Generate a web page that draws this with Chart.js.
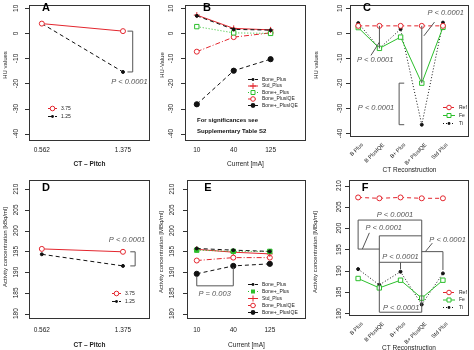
<!DOCTYPE html>
<html>
<head>
<meta charset="utf-8">
<script src="https://cdn.jsdelivr.net/npm/chart.js@4.4.0/dist/chart.umd.min.js"></script>
<style>
body { margin: 0; background: #fff; }
#fig { position: relative; width: 474px; height: 350px; overflow: hidden; }
canvas { position: absolute; }
</style>
</head>
<body>
<div id="fig">
<canvas id="pA" width="155" height="175" style="left:0;top:0"></canvas>
<canvas id="pB" width="156" height="175" style="left:155px;top:0"></canvas>
<canvas id="pC" width="163" height="175" style="left:311px;top:0"></canvas>
<canvas id="pD" width="155" height="175" style="left:0;top:175px"></canvas>
<canvas id="pE" width="156" height="175" style="left:155px;top:175px"></canvas>
<canvas id="pF" width="163" height="175" style="left:311px;top:175px"></canvas>
</div>
<script>
// tick labels
var huTicks = [-40, -30, -20, -10, 0, 10];
var actTicks = [180, 185, 190, 195, 200, 205, 210];
var pitchLabels = ['0.562', '1.375'];
var currentLabels = ['10', '40', '125'];
var reconLabels = ['B Plus', 'B PlusIQE', 'B+ Plus', 'B+ PlusIQE', 'Std Plus'];

// A: HU vs pitch
var huPitch375 = [3.9, 0.9];
var huPitch125 = [3.9, -15.4];
// D: activity vs pitch
var actPitch375 = [195.6, 194.9];
var actPitch125 = [194.3, 191.5];

// B: HU vs current
var huBonePlus = [7.0, 1.6, 1.3];
var huStdPlus = [7.3, 2.0, 1.4];
var huBoneXPlus = [2.7, 0.2, 0.0];
var huBonePlusIQE = [-7.3, -1.5, 0.2];
var huBoneXPlusIQE = [-28.3, -14.9, -10.3];
// E: activity vs current
var actBonePlus = [195.7, 195.3, 195.0];
var actBoneXPlus = [195.3, 195.0, 195.0];
var actStdPlus = [195.5, 194.8, 194.4];
var actBonePlusIQE = [192.8, 193.5, 193.5];
var actBoneXPlusIQE = [189.6, 191.5, 192.0];

// C: HU vs reconstruction
var huRef = [3.0, 3.0, 3.0, 3.0, 3.0];
var huFe = [2.3, -6.0, -1.5, -19.9, 2.4];
var huTi = [4.1, -6.0, 1.7, -36.5, 4.3];
// F: activity vs reconstruction
var actRef = [207.2, 207.0, 207.2, 207.0, 207.0];
var actFe = [188.2, 186.0, 187.8, 183.6, 187.8];
var actTi = [190.4, 186.7, 189.8, 182.1, 189.4];

var RED = '#e3262e', GREEN = '#2cbf2c', BLACK = '#111', GREY = '#555';
var FONT = '"Liberation Sans", Arial, sans-serif';
var DASH = { solid: [], dashed: [4, 3], dotted: [1, 2], dashdot: [5, 2, 1, 2] };
var MARK = {
  circle: { style: 'circle', r: 2.5, fill: false },
  dot: { style: 'circle', r: 1.5, fill: true },
  bigdot: { style: 'circle', r: 2.6, fill: true },
  square: { style: 'rect', r: 3.1, fill: false },
  fsquare: { style: 'rect', r: 3.1, fill: true },
  plus: { style: 'cross', r: 3, fill: false }
};

function series(label, values, color, dash, mark) {
  var m = MARK[mark];
  return {
    label: label,
    data: values.map(function (v, i) { return { x: i, y: v }; }),
    borderColor: color,
    borderWidth: 1,
    borderDash: DASH[dash],
    pointStyle: m.style,
    pointRadius: m.r,
    pointBackgroundColor: m.fill ? color : '#fff',
    pointBorderColor: color,
    pointBorderWidth: 1,
    fill: false,
    tension: 0,
    _dash: dash,
    _mark: mark
  };
}

function drawMark(ctx, type, color, x, y) {
  ctx.save();
  ctx.setLineDash([]);
  ctx.strokeStyle = color;
  ctx.fillStyle = color;
  ctx.lineWidth = 1;
  ctx.beginPath();
  if (type === 'circle') { ctx.arc(x, y, 2.3, 0, 2 * Math.PI); ctx.fillStyle = '#fff'; ctx.fill(); ctx.stroke(); }
  else if (type === 'dot') { ctx.arc(x, y, 1.4, 0, 2 * Math.PI); ctx.fill(); }
  else if (type === 'bigdot') { ctx.arc(x, y, 2.4, 0, 2 * Math.PI); ctx.fill(); }
  else if (type === 'square') { ctx.rect(x - 2, y - 2, 4, 4); ctx.fillStyle = '#fff'; ctx.fill(); ctx.stroke(); }
  else if (type === 'fsquare') { ctx.rect(x - 2, y - 2, 4, 4); ctx.fill(); }
  else if (type === 'plus') { ctx.moveTo(x - 3, y); ctx.lineTo(x + 3, y); ctx.moveTo(x, y - 3); ctx.lineTo(x, y + 3); ctx.stroke(); }
  ctx.restore();
}

// R style frame, axes, legend and p-value notes
function deco(o) {
  return {
    id: 'deco',
    afterDatasetsDraw: function (chart) {
      var ctx = chart.ctx, a = chart.chartArea;
      var sx = chart.scales.x, sy = chart.scales.y;
      var px = function (v) { return sx.getPixelForValue(v); };
      var py = function (v) { return sy.getPixelForValue(v); };
      ctx.save();
      ctx.strokeStyle = '#333';
      ctx.lineWidth = 1;
      ctx.strokeRect(Math.round(a.left) + 0.5, Math.round(a.top) + 0.5,
        Math.round(a.right - a.left) - 1, Math.round(a.bottom - a.top) - 1);

      // y axis
      ctx.fillStyle = '#222';
      ctx.font = '6.5px ' + FONT;
      o.yTicks.forEach(function (t) {
        var y = Math.round(py(t)) + 0.5;
        ctx.beginPath(); ctx.moveTo(a.left - 4, y); ctx.lineTo(a.left, y); ctx.stroke();
        ctx.save();
        ctx.translate(a.left - o.yOff, py(t));
        ctx.rotate(-Math.PI / 2);
        ctx.textAlign = 'center'; ctx.textBaseline = 'middle';
        ctx.fillText(String(t), 0, 0);
        ctx.restore();
      });

      // x labels
      o.xLabels.forEach(function (lab, i) {
        if (o.rotX) {
          ctx.save();
          ctx.font = '5.5px ' + FONT;
          ctx.translate(px(i) + 4, a.bottom + 7);
          ctx.rotate(-Math.PI / 4);
          ctx.textAlign = 'right'; ctx.textBaseline = 'middle';
          ctx.fillText(lab, 0, 0);
          ctx.restore();
        } else {
          ctx.textAlign = 'center'; ctx.textBaseline = 'middle';
          ctx.fillText(lab, px(i), a.bottom + o.xLabOff);
        }
      });

      // titles
      ctx.textAlign = 'center'; ctx.textBaseline = 'middle';
      ctx.font = (o.xTitleBold ? 'bold ' : '') + '6.5px ' + FONT;
      ctx.fillText(o.xTitle, (a.left + a.right) / 2, o.xTitleY);
      ctx.save();
      ctx.font = '6px ' + FONT;
      ctx.translate(o.yTitleX, o.yTitleY);
      ctx.rotate(-Math.PI / 2);
      ctx.fillText(o.yTitle, 0, 0);
      ctx.restore();
      ctx.font = 'bold 11px ' + FONT;
      ctx.fillStyle = '#000';
      ctx.fillText(o.letter, o.letterPos[0], o.letterPos[1]);

      // legend
      ctx.font = '5px ' + FONT;
      ctx.textAlign = 'left';
      chart.data.datasets.slice().sort(function (p, q) { return p._legendOrder - q._legendOrder; })
        .forEach(function (d, k) {
          var y = o.legend.y + k * o.legend.step;
          ctx.save();
          ctx.strokeStyle = d.borderColor;
          ctx.setLineDash(DASH[d._dash]);
          ctx.beginPath(); ctx.moveTo(o.legend.x, y + 0.5); ctx.lineTo(o.legend.x + o.legend.len, y + 0.5); ctx.stroke();
          ctx.restore();
          drawMark(ctx, d._mark, d.borderColor, o.legend.x + o.legend.len / 2, y + 0.5);
          ctx.fillStyle = '#222';
          ctx.fillText(d.label, o.legend.x + o.legend.len + 4, y + 0.5);
        });

      // p-value brackets and notes
      if (o.notes) {
        ctx.strokeStyle = GREY;
        ctx.setLineDash([]);
        o.notes.segs.forEach(function (s) {
          ctx.beginPath();
          ctx.moveTo(px(s[0]), py(s[1]));
          ctx.lineTo(px(s[2]), py(s[3]));
          ctx.stroke();
        });
        ctx.fillStyle = GREY;
        ctx.font = 'italic 7.5px ' + FONT;
        ctx.textAlign = 'center';
        o.notes.texts.forEach(function (t) {
          ctx.fillText(t[2], px(t[0]), py(t[1]));
        });
      }

      if (o.extra) o.extra(ctx);
      ctx.restore();
    }
  };
}

function makeChart(id, o) {
  o.datasets.forEach(function (d, i) { if (d._legendOrder === undefined) d._legendOrder = i; });
  return new Chart(document.getElementById(id), {
    type: 'line',
    data: { datasets: o.datasets },
    options: {
      responsive: false,
      animation: false,
      layout: { padding: o.pad },
      scales: {
        x: { type: 'linear', display: false, min: o.xr[0], max: o.xr[1] },
        y: { type: 'linear', display: false, min: o.yr[0], max: o.yr[1] }
      },
      plugins: { legend: { display: false }, tooltip: { enabled: false } }
    },
    plugins: [deco(o)]
  });
}

// ---- A ----
makeChart('pA', {
  pad: { left: 29, right: 3, top: 0, bottom: 34 },
  xr: [-0.158, 1.333], yr: [-42.96, 11.33],
  datasets: [
    series('3.75', huPitch375, RED, 'solid', 'circle'),
    series('1.25', huPitch125, BLACK, 'dashed', 'dot')
  ],
  yTicks: huTicks, yOff: 13, xLabels: pitchLabels, xLabOff: 9,
  xTitle: 'CT – Pitch', xTitleBold: true, xTitleY: 164,
  yTitle: 'HU values', yTitleX: 5, yTitleY: 65,
  letter: 'A', letterPos: [46, 8],
  legend: { x: 48, y: 108, step: 8, len: 9 },
  notes: {
    segs: [[1.055, huPitch375[1], 1.12, huPitch375[1]], [1.055, huPitch125[1], 1.12, huPitch125[1]],
           [1.12, huPitch375[1], 1.12, huPitch125[1]]],
    texts: [[1.08, -19.5, 'P < 0.0001']]
  }
});

// ---- B ----
makeChart('pB', {
  pad: { left: 30, right: 3, top: 0, bottom: 34 },
  xr: [-0.32, 2.96], yr: [-42.96, 11.33],
  datasets: [
    series('Bone_Plus', huBonePlus, BLACK, 'dashed', 'dot'),
    series('Std_Plus', huStdPlus, RED, 'solid', 'plus'),
    series('Bone+_Plus', huBoneXPlus, GREEN, 'dotted', 'square'),
    series('Bone_PlusIQE', huBonePlusIQE, RED, 'dashdot', 'circle'),
    series('Bone+_PlusIQE', huBoneXPlusIQE, BLACK, 'dashed', 'bigdot')
  ],
  yTicks: huTicks, yOff: 14, xLabels: currentLabels, xLabOff: 9,
  xTitle: 'Current [mA]', xTitleY: 164,
  yTitle: 'HU-Value', yTitleX: 7, yTitleY: 65,
  letter: 'B', letterPos: [52, 8],
  legend: { x: 93, y: 79, step: 6.5, len: 10 },
  extra: function (ctx) {
    ctx.fillStyle = '#111';
    ctx.font = 'bold 6px ' + FONT;
    ctx.textAlign = 'left';
    ctx.fillText('For significances see', 42, 120);
    ctx.fillText('Supplementary Table S2', 42, 131);
  }
});

// ---- C ----
makeChart('pC', {
  pad: { left: 39, right: 1, top: 0, bottom: 38 },
  xr: [-0.39, 5.23], yr: [-41.42, 11.33],
  datasets: [
    series('Ref', huRef, RED, 'dashed', 'circle'),
    series('Fe', huFe, GREEN, 'solid', 'square'),
    series('Ti', huTi, BLACK, 'dotted', 'dot')
  ],
  yTicks: huTicks, yOff: 10, xLabels: reconLabels, rotX: true,
  xTitle: 'CT Reconstruction', xTitleY: 170,
  yTitle: 'HU values', yTitleX: 5, yTitleY: 65,
  letter: 'C', letterPos: [56, 8],
  legend: { x: 132, y: 107, step: 8, len: 12 },
  notes: {
    segs: [[1, huRef[1], 1, huFe[1]], [1, -3.5, 0.6, -8.8],
           [3, huRef[3], 3, huFe[3]], [3.1, -1, 3.6, 4.5],
           [1.93, huFe[3], 1.93, huTi[3]], [1.93, huFe[3], 2.17, huFe[3]], [1.93, huTi[3], 2.17, huTi[3]]],
    texts: [[0.8, -10.6, 'P < 0.0001'], [4.13, 8.25, 'P < 0.0001'], [0.84, -29.9, 'P < 0.0001']]
  }
});

// ---- D ----
makeChart('pD', {
  pad: { left: 29, right: 3, top: 1, bottom: 31 },
  xr: [-0.158, 1.333], yr: [178.71, 212.2],
  datasets: [
    series('3.75', actPitch375, RED, 'solid', 'circle'),
    series('1.25', actPitch125, BLACK, 'dashed', 'dot')
  ],
  yTicks: actTicks, yOff: 13, xLabels: pitchLabels, xLabOff: 11,
  xTitle: 'CT – Pitch', xTitleBold: true, xTitleY: 170,
  yTitle: 'Activity concentration [kBq/ml]', yTitleX: 5, yTitleY: 72,
  letter: 'D', letterPos: [46, 13],
  legend: { x: 112, y: 118, step: 8, len: 9 },
  notes: {
    segs: [[1.09, actPitch375[1], 1.15, actPitch375[1]], [1.09, actPitch125[1], 1.15, actPitch125[1]],
           [1.15, actPitch375[1], 1.15, actPitch125[1]]],
    texts: [[1.05, 197.7, 'P < 0.0001']]
  }
});

// ---- E ----
makeChart('pE', {
  pad: { left: 32, right: 2, top: 1, bottom: 31 },
  xr: [-0.267, 2.99], yr: [178.71, 212.2],
  datasets: [
    series('Bone_Plus', actBonePlus, BLACK, 'dashed', 'dot'),
    series('Bone+_Plus', actBoneXPlus, GREEN, 'dotted', 'fsquare'),
    series('Std_Plus', actStdPlus, RED, 'solid', 'plus'),
    series('Bone_PlusIQE', actBonePlusIQE, RED, 'dashdot', 'circle'),
    series('Bone+_PlusIQE', actBoneXPlusIQE, BLACK, 'dashed', 'bigdot')
  ],
  yTicks: actTicks, yOff: 15, xLabels: currentLabels, xLabOff: 11,
  xTitle: 'Current [mA]', xTitleY: 170,
  yTitle: 'Activity concentration [MBq/ml]', yTitleX: 6, yTitleY: 77,
  letter: 'E', letterPos: [53, 13],
  legend: { x: 93, y: 109, step: 7, len: 10 },
  notes: {
    segs: [[0, actBoneXPlusIQE[0] - 0.6, 0, 186.7], [1, actBoneXPlusIQE[1] - 0.3, 1, 186.7], [0, 186.7, 1, 186.7]],
    texts: [[0.49, 184.8, 'P = 0.003']]
  }
});

// ---- F ----
makeChart('pF', {
  pad: { left: 38, right: 1, top: 5, bottom: 34 },
  xr: [-0.43, 5.23], yr: [179.41, 211.29],
  datasets: [
    series('Ref', actRef, RED, 'dashed', 'circle'),
    series('Fe', actFe, GREEN, 'solid', 'square'),
    series('Ti', actTi, BLACK, 'dotted', 'dot')
  ],
  yTicks: actTicks, yOff: 10, xLabels: reconLabels, rotX: true,
  xTitle: 'CT Reconstruction', xTitleY: 173,
  yTitle: 'Activity concentration [MBq/ml]', yTitleX: 4, yTitleY: 77,
  letter: 'F', letterPos: [54, 13],
  legend: { x: 132, y: 117, step: 7.5, len: 12 },
  notes: {
    segs: [[0, 201.9, 3, 201.9], [0, 201.9, 0, 195.1], [0, 195.1, 1, 195.1], [0.2, 195.1, 0.53, 198.9],
           [1, 198.2, 3, 198.2], [1, 198.2, 1, 180.3], [1, 192.0, 3, 192.0], [2, 192.0, 2, 190.4],
           [3, 201.9, 3, 180.3], [1, 180.3, 3, 180.3], [3, 194.5, 4, 194.5], [4, 194.5, 4, 190.2],
           [3.17, 194.5, 3.5, 196.5]],
    texts: [[1.74, 203.1, 'P < 0.0001'], [1.21, 200.0, 'P < 0.0001'], [2.0, 193.2, 'P < 0.0001'],
            [4.22, 197.2, 'P < 0.0001'], [2.03, 181.3, 'P < 0.0001']]
  }
});
</script>
</body>
</html>
